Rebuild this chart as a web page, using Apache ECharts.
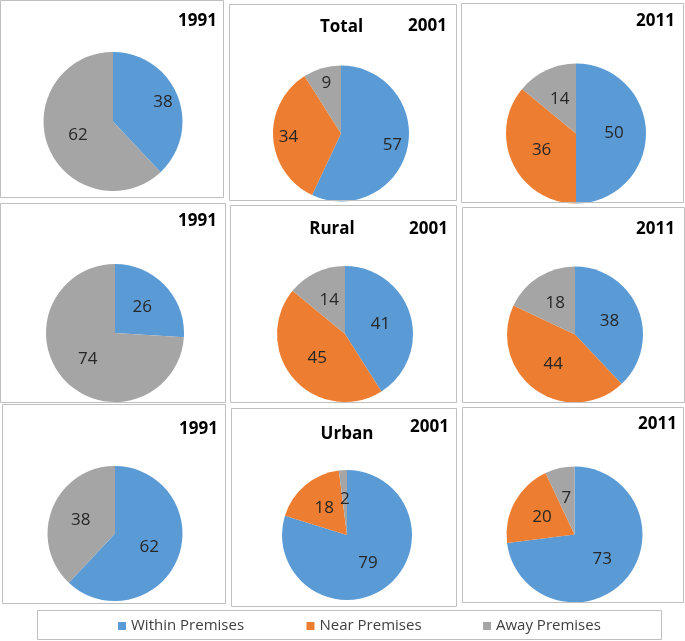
<!DOCTYPE html>
<html><head><meta charset="utf-8">
<script src="https://cdn.jsdelivr.net/npm/echarts@6/dist/echarts.min.js"></script>
<style>html,body{margin:0;padding:0;background:#fff}#c{width:685px;height:641px}</style>
</head><body><div id="c"></div>
<script>
// ---- data ----
const categories = ['Within Premises', 'Near Premises', 'Away Premises'];
const years = ['1991', '2001', '2011'];
const areas = ['Total', 'Rural', 'Urban'];
const totalValues = [[38, null, 62], [57, 34, 9], [50, 36, 14]];
const ruralValues = [[26, null, 74], [41, 45, 14], [38, 44, 18]];
const urbanValues = [[62, null, 38], [79, 18, 2], [73, 20, 7]];
const valuesByArea = [totalValues, ruralValues, urbanValues];

// ---- styles / layout ----
const colors = ['#5B9BD5', '#ED7D31', '#A5A5A5'];
const FONT = '"Open Sans", "Liberation Sans", sans-serif';
const boxes = [
  [[0.5, 0.5, 223, 197], [229.5, 4.5, 227, 196], [461.5, 3.5, 222, 199]],
  [[0.5, 203.5, 225, 199], [230.5, 205.5, 226, 197], [462.5, 207.5, 222, 195]],
  [[2.5, 404.5, 223, 199], [231.5, 408.5, 225, 198], [462.5, 407.5, 221, 195]]
];
const pies = [
  [[113, 121.5, 69.5], [341, 133.5, 68], [576, 133.5, 70]],
  [[115, 333, 69], [345, 334, 68], [575, 334.5, 68]],
  [[115, 533.5, 67.5], [347, 535, 65], [574.5, 534.5, 68]]
];
const yearPos = [
  [[217, 21], [447, 26], [675, 21]],
  [[217, 221], [448, 229], [675, 229]],
  [[218, 429], [449, 427], [677, 424]]
];
const areaPos = [[341.5, 27], [332, 229], [347, 434]];
// labels placed further out from the centre (row-col : item indices)
const farLabels = { '0-0': [0], '0-1': [0, 1, 2] };

const labelStyle = { fontFamily: FONT, fontSize: 17, color: '#262626', formatter: '{c}', overflow: 'none' };
const series = [];
const graphics = [];

for (let r = 0; r < 3; r++) {
  for (let c = 0; c < 3; c++) {
    const vals = valuesByArea[r][c];
    const far = farLabels[r + '-' + c] || [];
    const [cx, cy, rad] = pies[r][c];
    const items = [];
    vals.forEach((v, i) => {
      if (v == null) return;
      items.push({ i, v });
    });
    series.push({
      type: 'pie', center: [cx, cy], radius: [0, rad], startAngle: 90, clockwise: true,
      avoidLabelOverlap: false, emphasis: { disabled: true }, silent: true,
      minShowLabelAngle: 0,
      labelLine: { show: false },
      data: items.map(o => ({
        name: categories[o.i], value: o.v,
        itemStyle: { color: colors[o.i] },
        label: { show: far.indexOf(o.i) < 0, position: 'inside', ...labelStyle }
      }))
    });
    if (far.length) {
      series.push({
        type: 'pie', center: [cx, cy], radius: [rad * 0.46, rad], startAngle: 90, clockwise: true,
        avoidLabelOverlap: false, emphasis: { disabled: true }, silent: true,
        minShowLabelAngle: 0,
        labelLine: { show: false }, z: 3,
        data: items.map(o => ({
          name: categories[o.i], value: o.v,
          itemStyle: { color: 'rgba(0,0,0,0)' },
          label: { show: far.indexOf(o.i) >= 0, position: 'inside', ...labelStyle }
        }))
      });
    }
    const [bx, by, bw, bh] = boxes[r][c];
    graphics.push({
      type: 'rect', shape: { x: bx, y: by, width: bw, height: bh },
      style: { fill: 'none', stroke: '#BFBFBF', lineWidth: 1 }, z: 10
    });
    const [tx, ty] = yearPos[r][c];
    graphics.push({
      type: 'text', x: tx, y: ty, z: 11,
      style: { text: years[c], fontFamily: FONT, fontWeight: 'bold', fontSize: 17, fill: '#000',
               textAlign: 'right', textVerticalAlign: 'middle' }
    });
  }
  const [ax, ay] = areaPos[r];
  graphics.push({
    type: 'text', x: ax, y: ay, z: 11,
    style: { text: areas[r], fontFamily: FONT, fontWeight: 'bold', fontSize: 17, fill: '#000',
             textAlign: 'center', textVerticalAlign: 'middle' }
  });
}
// legend box
graphics.push({
  type: 'rect', shape: { x: 37.5, y: 610.5, width: 624, height: 29 },
  style: { fill: 'none', stroke: '#BFBFBF', lineWidth: 1 }, z: 10
});

const legendLefts = [118, 306.5, 483];
const legends = categories.map((name, i) => ({
  data: [{ name, itemStyle: { color: colors[i] } }],
  left: legendLefts[i], top: 618, padding: 0,
  icon: 'rect', itemWidth: 8, itemHeight: 8, selectedMode: false,
  textStyle: { fontFamily: FONT, fontSize: 15, color: '#404040', lineHeight: 16 }
}));

const chart = echarts.init(document.getElementById('c'), null, { renderer: 'canvas' });
chart.setOption({
  backgroundColor: '#fff',
  animation: false,
  legend: legends,
  series,
  graphic: { elements: graphics }
});
</script>
</body></html>
